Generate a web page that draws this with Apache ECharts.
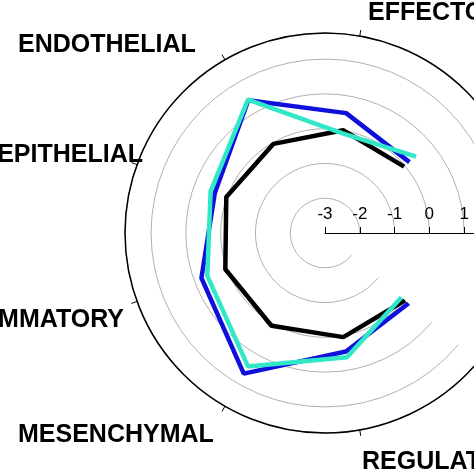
<!DOCTYPE html><html><head><meta charset="utf-8">
<script src="https://cdn.jsdelivr.net/npm/echarts@6/dist/echarts.min.js"></script>
<style>html,body{margin:0;background:#fff}#c{width:474px;height:474px}</style></head><body><div id="c"></div>
<script>
const angles = ['0','40','80','120','160','200','240','280','320'];
const blackVals = [null,-0.03,0.0,-0.04,0.02,0.05,0.08,0.04,0.01];
const blueVals = [null,0.17,0.5,1.41,0.37,0.78,1.67,0.46,0.14];
const cyanVals = [null,0.42,-0.09,1.43,0.5,0.6,1.43,0.63,-0.13];
const radialTicks = [-3,-2,-1,0,1,2];
const labels = [
 {t:'EFFECTOR',x:368,y:13,a:'left'},
 {t:'ENDOTHELIAL',x:18,y:45,a:'left'},
 {t:'EPITHELIAL',x:143,y:155,a:'right'},
 {t:'INFLAMMATORY',x:124,y:320,a:'right'},
 {t:'MESENCHYMAL',x:18,y:435,a:'left'},
 {t:'REGULATORY',x:362,y:462,a:'left'}
];
const chart = echarts.init(document.getElementById('c'));
const mk=(v,c,w)=>({type:'line',coordinateSystem:'polar',data:v,symbol:'none',connectNulls:false,lineStyle:{color:c,width:w},z:5,animation:false});
chart.setOption({
 animation:false,
 polar:{center:[325,233],radius:200},
 angleAxis:{type:'category',data:angles,boundaryGap:false,startAngle:0,clockwise:false,
  axisLine:{lineStyle:{color:'#000',width:1.5}},axisTick:{show:true,length:6,inside:false,lineStyle:{color:'#000'}},
  axisLabel:{show:false},splitLine:{show:false}},
 radiusAxis:{min:-3,max:2.75,interval:1,
  axisLine:{lineStyle:{color:'#000'}},axisTick:{show:true,length:6,inside:true,lineStyle:{color:'#000'}},
  axisLabel:{color:'#000',fontSize:17,fontFamily:'Liberation Sans',margin:10,inside:true,
   formatter:v=>radialTicks.includes(v)?String(v):''},
  splitLine:{show:true,lineStyle:{color:'#b0b0b0',width:1}}},
 graphic:labels.map(l=>({type:'text',x:l.x,y:l.y,style:{text:l.t,fill:'#000',font:'bold 25px "Liberation Sans"',textAlign:l.a,textVerticalAlign:'middle'}})),
 series:[mk(blackVals,'#000',4.5),mk(blueVals,'#1010dd',4.5),mk(cyanVals,'#30e8c8',4.5)]
});
</script></body></html>
